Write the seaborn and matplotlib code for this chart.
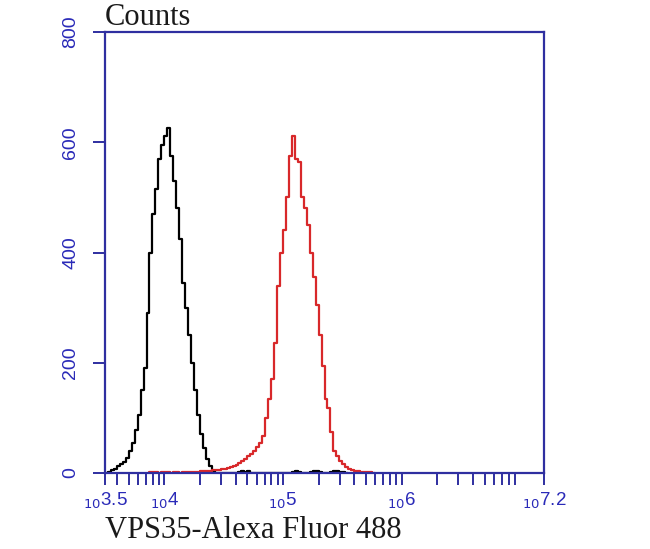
import numpy as np
import pandas as pd
import matplotlib
matplotlib.use("Agg")
import matplotlib.pyplot as plt
import seaborn as sns

# histogram counts, bins are 0.025 decade wide (log10 intensity)
bin_width = 0.025
black_start = 3.5
black_counts = [
    0, 2, 5, 8, 12, 16, 20, 27, 40, 55, 78, 105, 150, 190, 290, 400, 470, 515, 570,
    595, 612, 625, 575, 530, 480, 425, 345, 300, 250, 200, 150, 105, 70, 45, 25, 12, 4, 0,
    0, 0, 0, 0, 0, 0, 0, 2, 3, 2, 3, 0, 0, 0, 0, 0, 0, 0, 0, 0, 0, 0, 0, 0, 0,
    2, 3, 2, 0, 0, 0, 2, 3, 3, 2, 0, 0, 0, 2, 3, 3, 2, 2, 0,
]
red_start = 3.875
red_counts = [
    1, 1, 1, 0, 1, 1, 1, 0, 1, 1, 0, 1, 1, 2, 1, 2, 2, 3, 3, 4, 4, 5, 5, 6, 7, 8, 9,
    10, 12, 15, 18, 22, 25, 30, 35, 40, 48, 55, 68, 100, 135, 170, 235, 340, 400, 440,
    500, 575, 612, 570, 565, 500, 480, 450, 400, 355, 305, 250, 195, 135, 118, 75, 40,
    30, 22, 16, 10, 7, 5, 4, 3, 2, 2, 1, 1, 0,
]

x_major = [3.5, 4, 5, 6, 7.2]
x_major_labels = ["3.5", "4", "5", "6", "7.2"]
y_ticks = [0, 200, 400, 600, 800]

axis_blue = "#2f2fa0"
label_blue = "#2a2ab8"
red = "#d8282a"
text_dark = "#1a1a1a"


def to_frame(start, counts):
    centers = start + bin_width * (np.arange(len(counts)) + 0.5)
    return pd.DataFrame({"logx": centers, "count": counts})


black_df = to_frame(black_start, black_counts)
red_df = to_frame(red_start, red_counts)

sns.set_style("white")
plt.rcParams["font.family"] = ["Liberation Sans", "DejaVu Sans"]

fig = plt.figure(figsize=(6.5, 5.49), dpi=100)
ax = fig.add_axes([105 / 650, 76 / 549, 439 / 650, 441 / 549])

sns.histplot(data=black_df, x="logx", weights="count",
             binwidth=bin_width, binrange=(black_start, black_start + bin_width * len(black_counts)),
             element="step", fill=False, color="black", linewidth=1.6, ax=ax)
sns.histplot(data=red_df, x="logx", weights="count",
             binwidth=bin_width, binrange=(red_start, red_start + bin_width * len(red_counts)),
             element="step", fill=False, color=red, linewidth=1.6, ax=ax)

ax.set_xlim(3.5, 7.2)
ax.set_ylim(0, 800)

# log style ticks on the exponent axis
minor = [np.log10(k * 10.0 ** n) for n in range(3, 8) for k in range(2, 10)]
minor = [m for m in minor if 3.5 < m < 7.2]
ax.set_xticks(x_major)
ax.set_xticks(minor, minor=True)
ax.set_xticklabels([r"$_{10}$" + s for s in x_major_labels])
ax.set_yticks(y_ticks)
ax.set_yticklabels([str(v) for v in y_ticks])

ax.tick_params(axis="both", which="both", direction="out", length=8.6, width=1.4,
               color=axis_blue, bottom=True, left=True)
ax.tick_params(axis="x", labelsize=13.5, labelcolor=label_blue, pad=4)
ax.tick_params(axis="y", labelsize=14, labelcolor=label_blue, labelrotation=90, pad=10)
for t in ax.get_yticklabels():
    t.set_va("center")

for s in ax.spines.values():
    s.set_color(axis_blue)
    s.set_linewidth(1.6)
    s.set_visible(True)

ax.set_ylabel("")
ax.set_title("Counts", loc="left", pad=3.6, fontsize=22, family="Liberation Serif", color=text_dark)
ax.set_xlabel("VPS35-Alexa Fluor 488", loc="left", fontsize=22, family="Liberation Serif", color=text_dark)
ax.xaxis.label.set_va("baseline")
ax.xaxis.set_label_coords(0, (473 - 538) / 441)

fig.savefig("out.png", dpi=100)
